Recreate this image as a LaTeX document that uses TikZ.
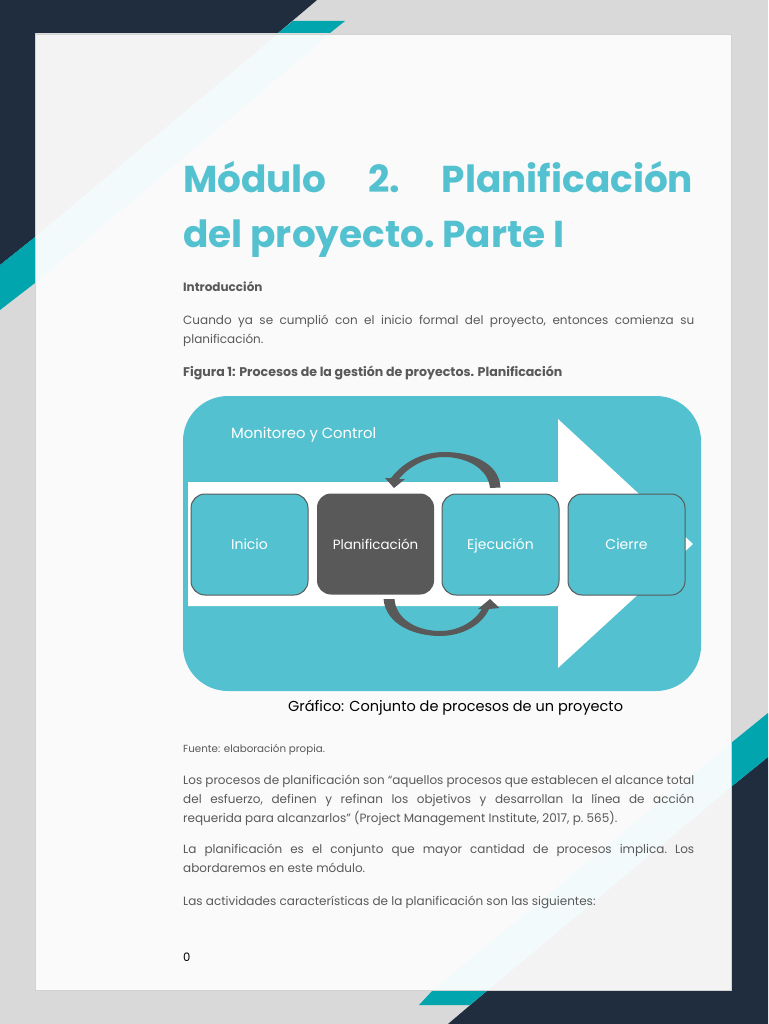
\documentclass[tikz,border=0pt]{standalone}
\usepackage{fontspec}
\setmainfont{Poppins}
\usetikzlibrary{calc}
\definecolor{pagegray}{HTML}{D9D9D9}
\definecolor{darknavy}{HTML}{1F2D3F}
\definecolor{barteal}{HTML}{00A5AE}
\definecolor{papercorner}{HTML}{F3F3F3}
\definecolor{paperwhite}{HTML}{FAFAFA}
\definecolor{paperstrip}{HTML}{F3FAFB}
\definecolor{lightteal}{HTML}{53C1CF}
\definecolor{textgray}{HTML}{595959}
\tikzset{
	stagebox/.style={draw=textgray,line width=1pt,fill=lightteal,rounded corners=14,minimum width=117,minimum height=101,inner sep=0,text=white,text height=10,text depth=0,font=\fontsize{14}{15}\selectfont},
	bodytext/.style={anchor=north west,inner sep=0,text width=511,align=justify,text=textgray,font=\frenchspacing\fontsize{12}{18.8}\selectfont},
	headtext/.style={anchor=west,inner sep=0,text=textgray,font=\fontsize{12}{14}\selectfont\bfseries},
	titletext/.style={anchor=north west,inner sep=0,text width=510,align=justify,text=lightteal,font=\frenchspacing\fontsize{37.4}{55}\selectfont\bfseries},
}
\begin{document}
\begin{tikzpicture}[x=1pt,y=-1pt]
	\useasboundingbox (0,0) rectangle (768,1024);
	\fill[pagegray] (0,0) rectangle (768,1024);

	% corners
	\fill[darknavy] (0,0) -- (317,0) -- (278,33) -- (35,33) -- (35,237) -- (0,265) -- cycle;
	\fill[barteal] (278,33) -- (293,21) -- (345,21) -- (330,33) -- cycle;
	\fill[barteal] (35,237) -- (35,283) -- (0,310) -- (0,265) -- cycle;
	\fill[darknavy] (768,757) -- (768,1024) -- (448,1024) -- (488,990) -- (731,990) -- (731,787) -- cycle;
	\fill[barteal] (731,743) -- (768,713) -- (768,757) -- (731,787) -- cycle;
	\fill[barteal] (419,1005) -- (433,990) -- (488,990) -- (470,1005) -- cycle;

	% sheet
	\fill[paperwhite] (35,34) rectangle (731,990);
	\fill[papercorner] (35,34) -- (278,34) -- (35,237) -- cycle;
	\fill[papercorner] (731,787) -- (731,990) -- (488,990) -- cycle;
	\fill[paperstrip] (278,34) -- (330,34) -- (35,283) -- (35,237) -- cycle;
	\fill[paperstrip] (731,743) -- (731,787) -- (488,990) -- (433,990) -- cycle;
	\draw[gray!35,line width=.6pt] (35,990) -- (35,34) -- (731,34) -- (731,990) -- cycle;

	\node[titletext] (title) at (183,161) {Módulo 2. Planificación\linebreak del proyecto. Parte I};
	\node[headtext] (intro) at (183,287) {Introducción};
	\node[bodytext] (para1) at (183,315) {Cuando ya se cumplió con el inicio formal del proyecto, entonces comienza su\linebreak planificación.};
	\node[headtext,font=\fontsize{12.6}{14}\selectfont\bfseries] (figtitle) at (183,373) {Figura 1: Procesos de la gestión de proyectos. Planificación};

	% figure
	\node[fill=lightteal,rounded corners=45,minimum width=518,minimum height=295,inner sep=0] (panel) at (442,543.5) {};
	\fill[white] (188,482) -- (558,482) -- (558,419) -- (693,544) -- (558,668) -- (558,606) -- (188,606) -- cycle;
	\node[anchor=west,inner sep=0,text=white,font=\fontsize{14.8}{16}\selectfont] (monitoreo) at (231,435) {Monitoreo y Control};

	\node[stagebox] (inicio) at (249.5,544.5) {Inicio};
	\node[stagebox,draw=none,fill=textgray,font=\fontsize{13.4}{15}\selectfont] (planif) at (375.5,544) {Planificación};
	\node[stagebox] (ejec) at (500.5,544.5) {Ejecución};
	\node[stagebox] (cierre) at (626.5,544.5) {Cierre};

	\coordinate (toptail) at ($(ejec.north)+(0,-6)$);
	\coordinate (bottail) at ($(planif.south)+(8,4)$);
	\fill[textgray] (toptail) .. controls (499,462) and (470,452) .. (444,452)
		.. controls (425,452) and (405,460) .. (391,478) -- (385,478) -- (394,488) -- (405,479) -- (399,479)
		.. controls (410,465) and (428,457) .. (444,457)
		.. controls (466,457) and (488,468) .. (490,488) -- cycle;
	\fill[textgray] (bottail) .. controls (386,625) and (415,636) .. (440,636)
		.. controls (462,636) and (482,625) .. (489,609) -- (499.5,608) -- (490,599) -- (478,609) -- (482,609)
		.. controls (474,622) and (458,631) .. (440,631)
		.. controls (418,631) and (396,620) .. (394.5,599) -- cycle;

	\node[anchor=west,inner sep=0,text=black,font=\fontsize{14.5}{16}\selectfont] (caption) at (288,708) {Gráfico: Conjunto de procesos de un proyecto};
	\node[anchor=west,inner sep=0,text=textgray,font=\fontsize{10.3}{12}\selectfont] (fuente) at (183,750) {Fuente: elaboración propia.};

	\node[bodytext] (para2) at (183,775) {Los procesos de planificación son “aquellos procesos que establecen el alcance total\linebreak del esfuerzo, definen y refinan los objetivos y desarrollan la línea de acción\linebreak requerida para alcanzarlos” (Project Management Institute, 2017, p. 565).};
	\node[bodytext] (para3) at (183,844) {La planificación es el conjunto que mayor cantidad de procesos implica. Los\linebreak abordaremos en este módulo.};
	\node[anchor=west,inner sep=0,text=textgray,font=\fontsize{12}{14}\selectfont] (para4) at (183,902) {Las actividades características de la planificación son las siguientes:};
	\node[anchor=west,inner sep=0,text=black,font=\fontsize{11.6}{14}\selectfont] (pageno) at (183,957) {0};
\end{tikzpicture}
\end{document}
